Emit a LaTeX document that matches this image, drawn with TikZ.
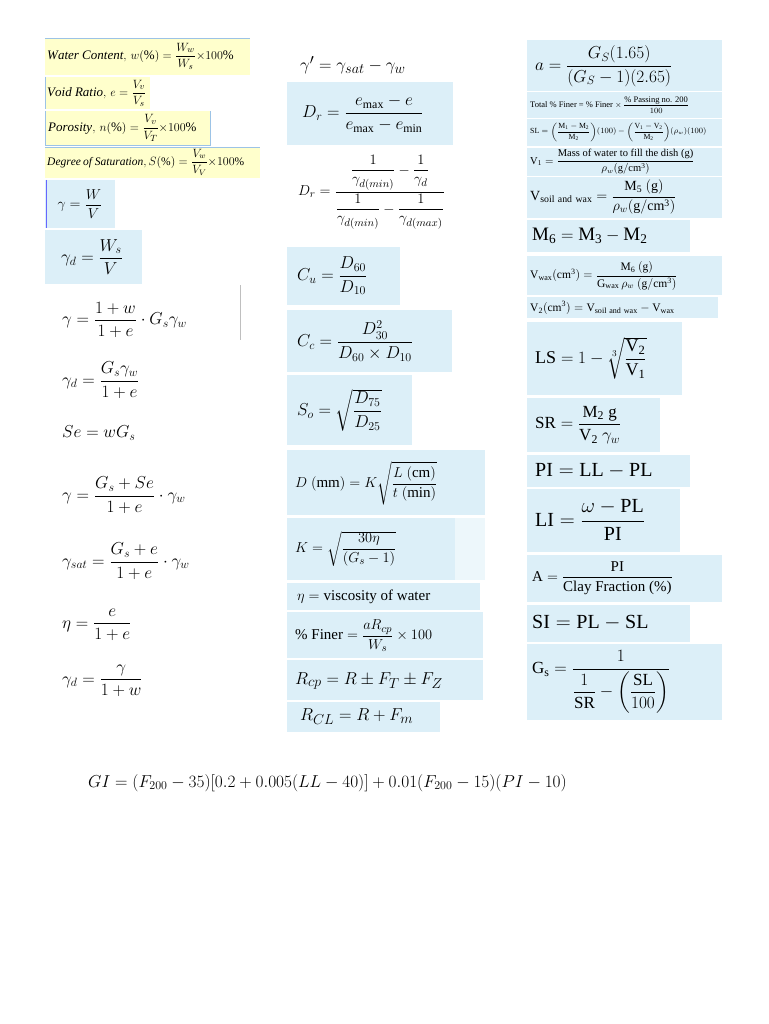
\documentclass[tikz,border=0pt]{standalone}
\usepackage{amsmath}
\usepackage{fontspec}
\setmainfont{Liberation Serif}
\definecolor{ylw}{HTML}{FFFFCC}
\definecolor{lbl}{HTML}{DCEFF8}
\definecolor{edge}{HTML}{9CC3E6}
\newcommand{\fs}[1]{\fontsize{#1}{#1}\selectfont}
\begin{document}
\begin{tikzpicture}[x=1pt,y=-1pt,
  yb/.style={fill=ylw},
  bb/.style={fill=lbl},
  eq/.style={inner sep=0pt,font=\fs{11}}]
\useasboundingbox (0,0) rectangle (768,1024);
\fill[white] (0,0) rectangle (768,1024);
% ---------- left column
\fill[yb] (45,38) rectangle (250,75);   \draw[edge] (45,38)--(250,38);
\fill[yb] (45,77) rectangle (150,109);  \draw[edge] (45,77)--(45,109);
\fill[yb] (45,111) rectangle (210,145); \draw[edge] (45,111)--(45,145)--(210,145)--(210,111);
\fill[yb] (45,147) rectangle (260,178); \draw[edge] (45,147)--(260,147);
\fill[bb] (45,180) rectangle (115,228); \draw[blue!60,thick] (46,180)--(46,228);
\fill[bb] (45,230) rectangle (142,284);
\draw[gray!50] (240,285)--(240,340);
\node[eq,anchor=west,font=\fs{13}] (wc) at (47,56) {$\mathit{Water\ Content},\, w(\%)=\dfrac{W_w}{W_s}{\times}100\%$};
\node[eq,anchor=west,font=\fs{13}] (vr) at (47,93) {$\mathit{Void\ Ratio},\, e=\dfrac{V_v}{V_s}$};
\node[eq,anchor=west,font=\fs{13}] (po) at (48,128) {$\mathit{Porosity},\, n(\%)=\dfrac{V_v}{V_T}{\times}100\%$};
\node[eq,anchor=west,font=\fs{11.5}] (ds) at (47,162) {$\mathit{Degree\,of\ Saturation},S(\%)=\dfrac{V_w}{V_V}{\times}100\%$};
\node[eq,font=\fs{15}] (g1) at (80,204) {$\gamma=\dfrac{W}{V}$};
\node[eq,font=\fs{17}] (g2) at (92,257) {$\gamma_d=\dfrac{W_s}{V}$};
\node[eq,anchor=west,font=\fs{17}] (g3) at (62,320) {$\gamma=\dfrac{1+w}{1+e}\cdot G_s\gamma_w$};
\node[eq,anchor=west,font=\fs{17}] (g4) at (62,380) {$\gamma_d=\dfrac{G_s\gamma_w}{1+e}$};
\node[eq,anchor=west,font=\fs{17}] (se) at (62,433) {$Se=wG_s$};
\node[eq,anchor=west,font=\fs{17}] (g5) at (62,495) {$\gamma=\dfrac{G_s+Se}{1+e}\cdot\gamma_w$};
\node[eq,anchor=west,font=\fs{17}] (g6) at (62,561) {$\gamma_{sat}=\dfrac{G_s+e}{1+e}\cdot\gamma_w$};
\node[eq,anchor=west,font=\fs{17}] (et) at (62,625) {$\eta=\dfrac{e}{1+e}$};
\node[eq,anchor=west,font=\fs{17}] (g7) at (62,681) {$\gamma_d=\dfrac{\gamma}{1+w}$};
% ---------- middle column
\fill[bb] (287,82) rectangle (453,145);
\fill[bb] (287,247) rectangle (400,305);
\fill[bb] (287,310) rectangle (452,372);
\fill[bb] (287,375) rectangle (412,445);
\fill[bb] (287,450) rectangle (485,515);
\fill[bb] (287,518) rectangle (455,580);
\fill[lbl!50] (455,518) rectangle (485,580);
\fill[bb] (287,583) rectangle (480,610);
\fill[bb] (287,612) rectangle (483,658);
\fill[bb] (287,660) rectangle (483,700);
\fill[bb] (287,702) rectangle (440,732);
\node[eq,anchor=west,font=\fs{19}] (gp) at (300,65) {$\gamma'=\gamma_{sat}-\gamma_w$};
\node[eq,anchor=west,font=\fs{17}] (dr1) at (302,114) {$D_r=\dfrac{e_{\max}-e}{e_{\max}-e_{\min}}$};
\node[eq,anchor=west,font=\fs{15}] (dr2) at (298,192) {$D_r=\dfrac{\dfrac{1}{\gamma_{d(min)}}-\dfrac{1}{\gamma_d}}{\dfrac{1}{\gamma_{d(min)}}-\dfrac{1}{\gamma_{d(max)}}}$};
\node[eq,anchor=west,font=\fs{18}] (cu) at (297,276) {$C_u=\dfrac{D_{60}}{D_{10}}$};
\node[eq,anchor=west,font=\fs{18}] (cc) at (297,341) {$C_c=\dfrac{D_{30}^2}{D_{60}\times D_{10}}$};
\node[eq,anchor=west,font=\fs{18}] (so) at (297,410) {$S_o=\sqrt{\dfrac{D_{75}}{D_{25}}}$};
\node[eq,anchor=west,font=\fs{15}] (dm) at (295,483) {$D\ (\mathrm{mm})=K\sqrt{\dfrac{L\ (\mathrm{cm})}{t\ (\mathrm{min})}}$};
\node[eq,anchor=west,font=\fs{15}] (kk) at (295,549) {$K=\sqrt{\dfrac{30\eta}{(G_s-1)}}$};
\node[eq,anchor=west,font=\fs{15}] (vi) at (297,597) {$\eta=\text{viscosity of water}$};
\node[eq,anchor=west,font=\fs{15}] (pf) at (295,636) {$\%\ \text{Finer}=\dfrac{aR_{cp}}{W_s}\times100$};
\node[eq,anchor=west,font=\fs{19}] (rc) at (295,681) {$R_{cp}=R\pm F_T\pm F_Z$};
\node[eq,anchor=west,font=\fs{19}] (rl) at (300,717) {$R_{CL}=R+F_m$};
% ---------- right column
\fill[bb] (527,40) rectangle (722,91);
\fill[bb] (527,92) rectangle (722,118);
\fill[bb] (527,119) rectangle (722,146);
\fill[bb] (527,148) rectangle (722,176);
\fill[bb] (527,177) rectangle (722,218);
\fill[bb] (527,220) rectangle (690,252);
\fill[bb] (527,256) rectangle (722,295);
\fill[bb] (527,297) rectangle (718,318);
\fill[bb] (527,322) rectangle (682,395);
\fill[bb] (527,398) rectangle (660,452);
\fill[bb] (527,455) rectangle (690,487);
\fill[bb] (527,489) rectangle (680,552);
\fill[bb] (527,555) rectangle (722,602);
\fill[bb] (527,605) rectangle (690,642);
\fill[bb] (527,644) rectangle (722,720);
\node[eq,anchor=west,font=\fs{17}] (aa) at (535,66) {$a=\dfrac{G_S(1.65)}{(G_S-1)(2.65)}$};
\node[eq,anchor=west,font=\fs{8.5}] (tf) at (530,105) {Total \% Finer = \% Finer $\times\,\dfrac{\text{\% Passing no. 200}}{100}$};
\node[eq,anchor=west,font=\fs{7.8}] (sl) at (530,132) {$\mathrm{SL}=\left(\dfrac{\mathrm{M_1-M_2}}{\mathrm{M_2}}\right)\!(100)-\left(\dfrac{\mathrm{V_1-V_2}}{\mathrm{M_2}}\right)\!(\rho_w)(100)$};
\node[eq,anchor=west,font=\fs{10.5}] (v1) at (530,162) {$\mathrm{V_1}=\dfrac{\text{Mass of water to fill the dish (g)}}{\rho_w(\mathrm{g/cm^3})}$};
\node[eq,anchor=west,font=\fs{14}] (vs) at (530,197) {$\mathrm{V_{soil\ and\ wax}}=\dfrac{\mathrm{M_5\ (g)}}{\rho_w(\mathrm{g/cm^3})}$};
\node[eq,anchor=west,font=\fs{19}] (m6) at (532,236) {$\mathrm{M_6=M_3-M_2}$};
\node[eq,anchor=west,font=\fs{11.5}] (vw) at (530,276) {$\mathrm{V_{wax}(cm^3)}=\dfrac{\mathrm{M_6\ (g)}}{\mathrm{G_{wax}}\,\rho_w\ \mathrm{(g/cm^3)}}$};
\node[eq,anchor=west,font=\fs{11.5}] (v2) at (530,308) {$\mathrm{V_2(cm^3)=V_{soil\ and\ wax}-V_{wax}}$};
\node[eq,anchor=west,font=\fs{18}] (ls) at (535,358) {$\mathrm{LS}=1-\sqrt[3]{\dfrac{\mathrm{V_2}}{\mathrm{V_1}}}$};
\node[eq,anchor=west,font=\fs{17}] (sr) at (535,425) {$\mathrm{SR}=\dfrac{\mathrm{M_2\ g}}{\mathrm{V_2}\ \gamma_w}$};
\node[eq,anchor=west,font=\fs{20}] (pi) at (535,471) {$\mathrm{PI=LL-PL}$};
\node[eq,anchor=west,font=\fs{20}] (li) at (535,520) {$\mathrm{LI}=\dfrac{\omega-\mathrm{PL}}{\mathrm{PI}}$};
\node[eq,anchor=west,font=\fs{15}] (ac) at (532,578) {$\mathrm{A}=\dfrac{\mathrm{PI}}{\text{Clay Fraction (\%)}}$};
\node[eq,anchor=west,font=\fs{20}] (si) at (532,623) {$\mathrm{SI=PL-SL}$};
\node[eq,anchor=west,font=\fs{17}] (gs) at (532,682) {$\mathrm{G_s}=\dfrac{1}{\dfrac{1}{\mathrm{SR}}-\left(\dfrac{\mathrm{SL}}{100}\right)}$};
% ---------- bottom
\node[eq,anchor=west,font=\fs{17}] (gi) at (88,783) {$GI=(F_{200}-35)[0.2+0.005(LL-40)]+0.01(F_{200}-15)(PI-10)$};
\end{tikzpicture}
\end{document}
